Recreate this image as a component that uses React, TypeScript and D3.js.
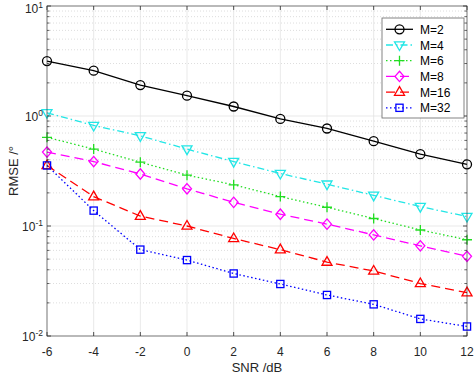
import React from "react";
import * as d3 from "d3";

const snr = [-6, -4, -2, 0, 2, 4, 6, 8, 10, 12];
const m2 = [3.16, 2.58, 1.91, 1.53, 1.22, 0.94, 0.77, 0.59, 0.45, 0.364];
const m4 = [1.07, 0.82, 0.66, 0.5, 0.385, 0.3, 0.24, 0.19, 0.15, 0.122];
const m6 = [0.64, 0.5, 0.38, 0.29, 0.237, 0.185, 0.148, 0.117, 0.092, 0.075];
const m8 = [0.47, 0.385, 0.297, 0.218, 0.164, 0.128, 0.104, 0.083, 0.066, 0.053];
const m16 = [0.355, 0.185, 0.123, 0.1, 0.077, 0.061, 0.047, 0.039, 0.03, 0.0248];
const m32 = [0.355, 0.138, 0.061, 0.049, 0.037, 0.0297, 0.0236, 0.0194, 0.0143, 0.0122];
const seriesNames = ["M=2", "M=4", "M=6", "M=8", "M=16", "M=32"];
const xTicks = [-6, -4, -2, 0, 2, 4, 6, 8, 10, 12];
const yDecades = [-2, -1, 0, 1];

type Style = { color: string; dash: string; marker: string };
const styles: Style[] = [
  { color: "#000000", dash: "", marker: "circle" },
  { color: "#22e6e6", dash: "7,3,1.5,3", marker: "triangleDown" },
  { color: "#22dd22", dash: "1.5,2.5", marker: "plus" },
  { color: "#ff00ff", dash: "9,5", marker: "diamond" },
  { color: "#ff0000", dash: "9,5", marker: "triangleUp" },
  { color: "#0000ff", dash: "1.5,2.5", marker: "square" },
];

const L = 47, R = 467, T = 6, B = 336;
const x = d3.scaleLinear().domain([-6, 12]).range([L, R]);
const y = d3.scaleLog().domain([0.01, 10]).range([B, T]);

function Marker({ kind, cx, cy, color }: { kind: string; cx: number; cy: number; color: string }) {
  const common = { fill: "none", stroke: color, strokeWidth: 1.3 };
  if (kind === "circle") return <circle cx={cx} cy={cy} r={4.5} {...common} />;
  if (kind === "square") return <rect x={cx - 3.6} y={cy - 3.6} width={7.2} height={7.2} {...common} />;
  if (kind === "diamond")
    return <path d={`M${cx},${cy - 5.2}L${cx + 4.5},${cy}L${cx},${cy + 5.2}L${cx - 4.5},${cy}Z`} {...common} />;
  if (kind === "plus")
    return <path d={`M${cx - 5},${cy}H${cx + 5}M${cx},${cy - 5}V${cy + 5}`} {...common} />;
  if (kind === "triangleUp")
    return <path d={`M${cx},${cy - 5.5}L${cx + 5},${cy + 3.2}L${cx - 5},${cy + 3.2}Z`} {...common} />;
  if (kind === "triangleDown")
    return <path d={`M${cx},${cy + 5.5}L${cx + 5},${cy - 3.2}L${cx - 5},${cy - 3.2}Z`} {...common} />;
  return null;
}

export default function App() {
  const data = [m2, m4, m6, m8, m16, m32];
  const line = d3
    .line<number>()
    .x((_, i) => x(snr[i]))
    .y((d) => y(d));
  const minor: number[] = [];
  for (let e = -2; e < 1; e++) for (let k = 2; k <= 9; k++) minor.push(k * Math.pow(10, e));
  const axisColor = "#262626";
  const font = "Liberation Sans, Arial, Helvetica, sans-serif";
  const legX = 382, legY = 18, legW = 82, legH = 100;
  return (
    <svg width={474} height={376} style={{ position: "absolute", left: 0, top: 0 }} fontFamily={font}>
      <rect x={0} y={0} width={474} height={376} fill="#fff" />
      {minor.map((v, i) => (
        <line key={"mg" + i} x1={L} x2={R} y1={y(v)} y2={y(v)} stroke="#d4d4d4" strokeWidth={0.8} strokeDasharray="1,2" />
      ))}
      {xTicks.map((t) => (
        <line key={"gx" + t} x1={x(t)} x2={x(t)} y1={T} y2={B} stroke="#e3e3e3" strokeWidth={0.8} />
      ))}
      {yDecades.map((e) => (
        <line key={"gy" + e} x1={L} x2={R} y1={y(Math.pow(10, e))} y2={y(Math.pow(10, e))} stroke="#e3e3e3" strokeWidth={0.8} />
      ))}
      {data.map((d, si) => (
        <g key={"s" + si}>
          <path d={line(d) || ""} fill="none" stroke={styles[si].color} strokeWidth={1.3} strokeDasharray={styles[si].dash} />
          {d.map((v, i) => (
            <Marker key={i} kind={styles[si].marker} cx={x(snr[i])} cy={y(v)} color={styles[si].color} />
          ))}
        </g>
      ))}
      <rect x={L} y={T} width={R - L} height={B - T} fill="none" stroke={axisColor} strokeWidth={0.8} strokeOpacity={0.7} />
      {xTicks.map((t) => (
        <g key={"xt" + t}>
          <line x1={x(t)} x2={x(t)} y1={B} y2={B - 4} stroke={axisColor} strokeWidth={0.8} />
          <line x1={x(t)} x2={x(t)} y1={T} y2={T + 4} stroke={axisColor} strokeWidth={0.8} />
          <text x={x(t)} y={356} textAnchor="middle" fontSize={12} fill={axisColor}>
            {t}
          </text>
        </g>
      ))}
      {yDecades.map((e) => {
        const ty = y(Math.pow(10, e));
        return (
          <g key={"yt" + e}>
            <line x1={L} x2={L + 4} y1={ty} y2={ty} stroke={axisColor} strokeWidth={0.8} />
            <line x1={R} x2={R - 4} y1={ty} y2={ty} stroke={axisColor} strokeWidth={0.8} />
            <text x={L - 4} y={Math.max(ty + 5, 13)} textAnchor="end" fontSize={12} fill={axisColor}>
              10<tspan dy={-5.5} fontSize={8.5}>{e}</tspan>
            </text>
          </g>
        );
      })}
      {minor.map((v, i) => (
        <g key={"mt" + i}>
          <line x1={L} x2={L + 2.5} y1={y(v)} y2={y(v)} stroke={axisColor} strokeWidth={0.7} />
          <line x1={R} x2={R - 2.5} y1={y(v)} y2={y(v)} stroke={axisColor} strokeWidth={0.7} />
        </g>
      ))}
      <text x={(L + R) / 2} y={372} textAnchor="middle" fontSize={13} fill={axisColor}>
        SNR /dB
      </text>
      <text transform={`translate(18,${(T + B) / 2}) rotate(-90)`} textAnchor="middle" fontSize={13} fill={axisColor}>
        RMSE /°
      </text>
      <rect x={legX} y={legY} width={legW} height={legH} fill="#fff" stroke={axisColor} strokeWidth={0.8} strokeOpacity={0.7} />
      {seriesNames.map((n, i) => {
        const ly = 29.3 + i * 15.7;
        return (
          <g key={"l" + i}>
            <line x1={386} x2={413} y1={ly} y2={ly} stroke={styles[i].color} strokeWidth={1.3} strokeDasharray={styles[i].dash} />
            <Marker kind={styles[i].marker} cx={399.5} cy={ly} color={styles[i].color} />
            <text x={420} y={ly + 4.5} fontSize={12} fill="#000">
              {n}
            </text>
          </g>
        );
      })}
    </svg>
  );
}
